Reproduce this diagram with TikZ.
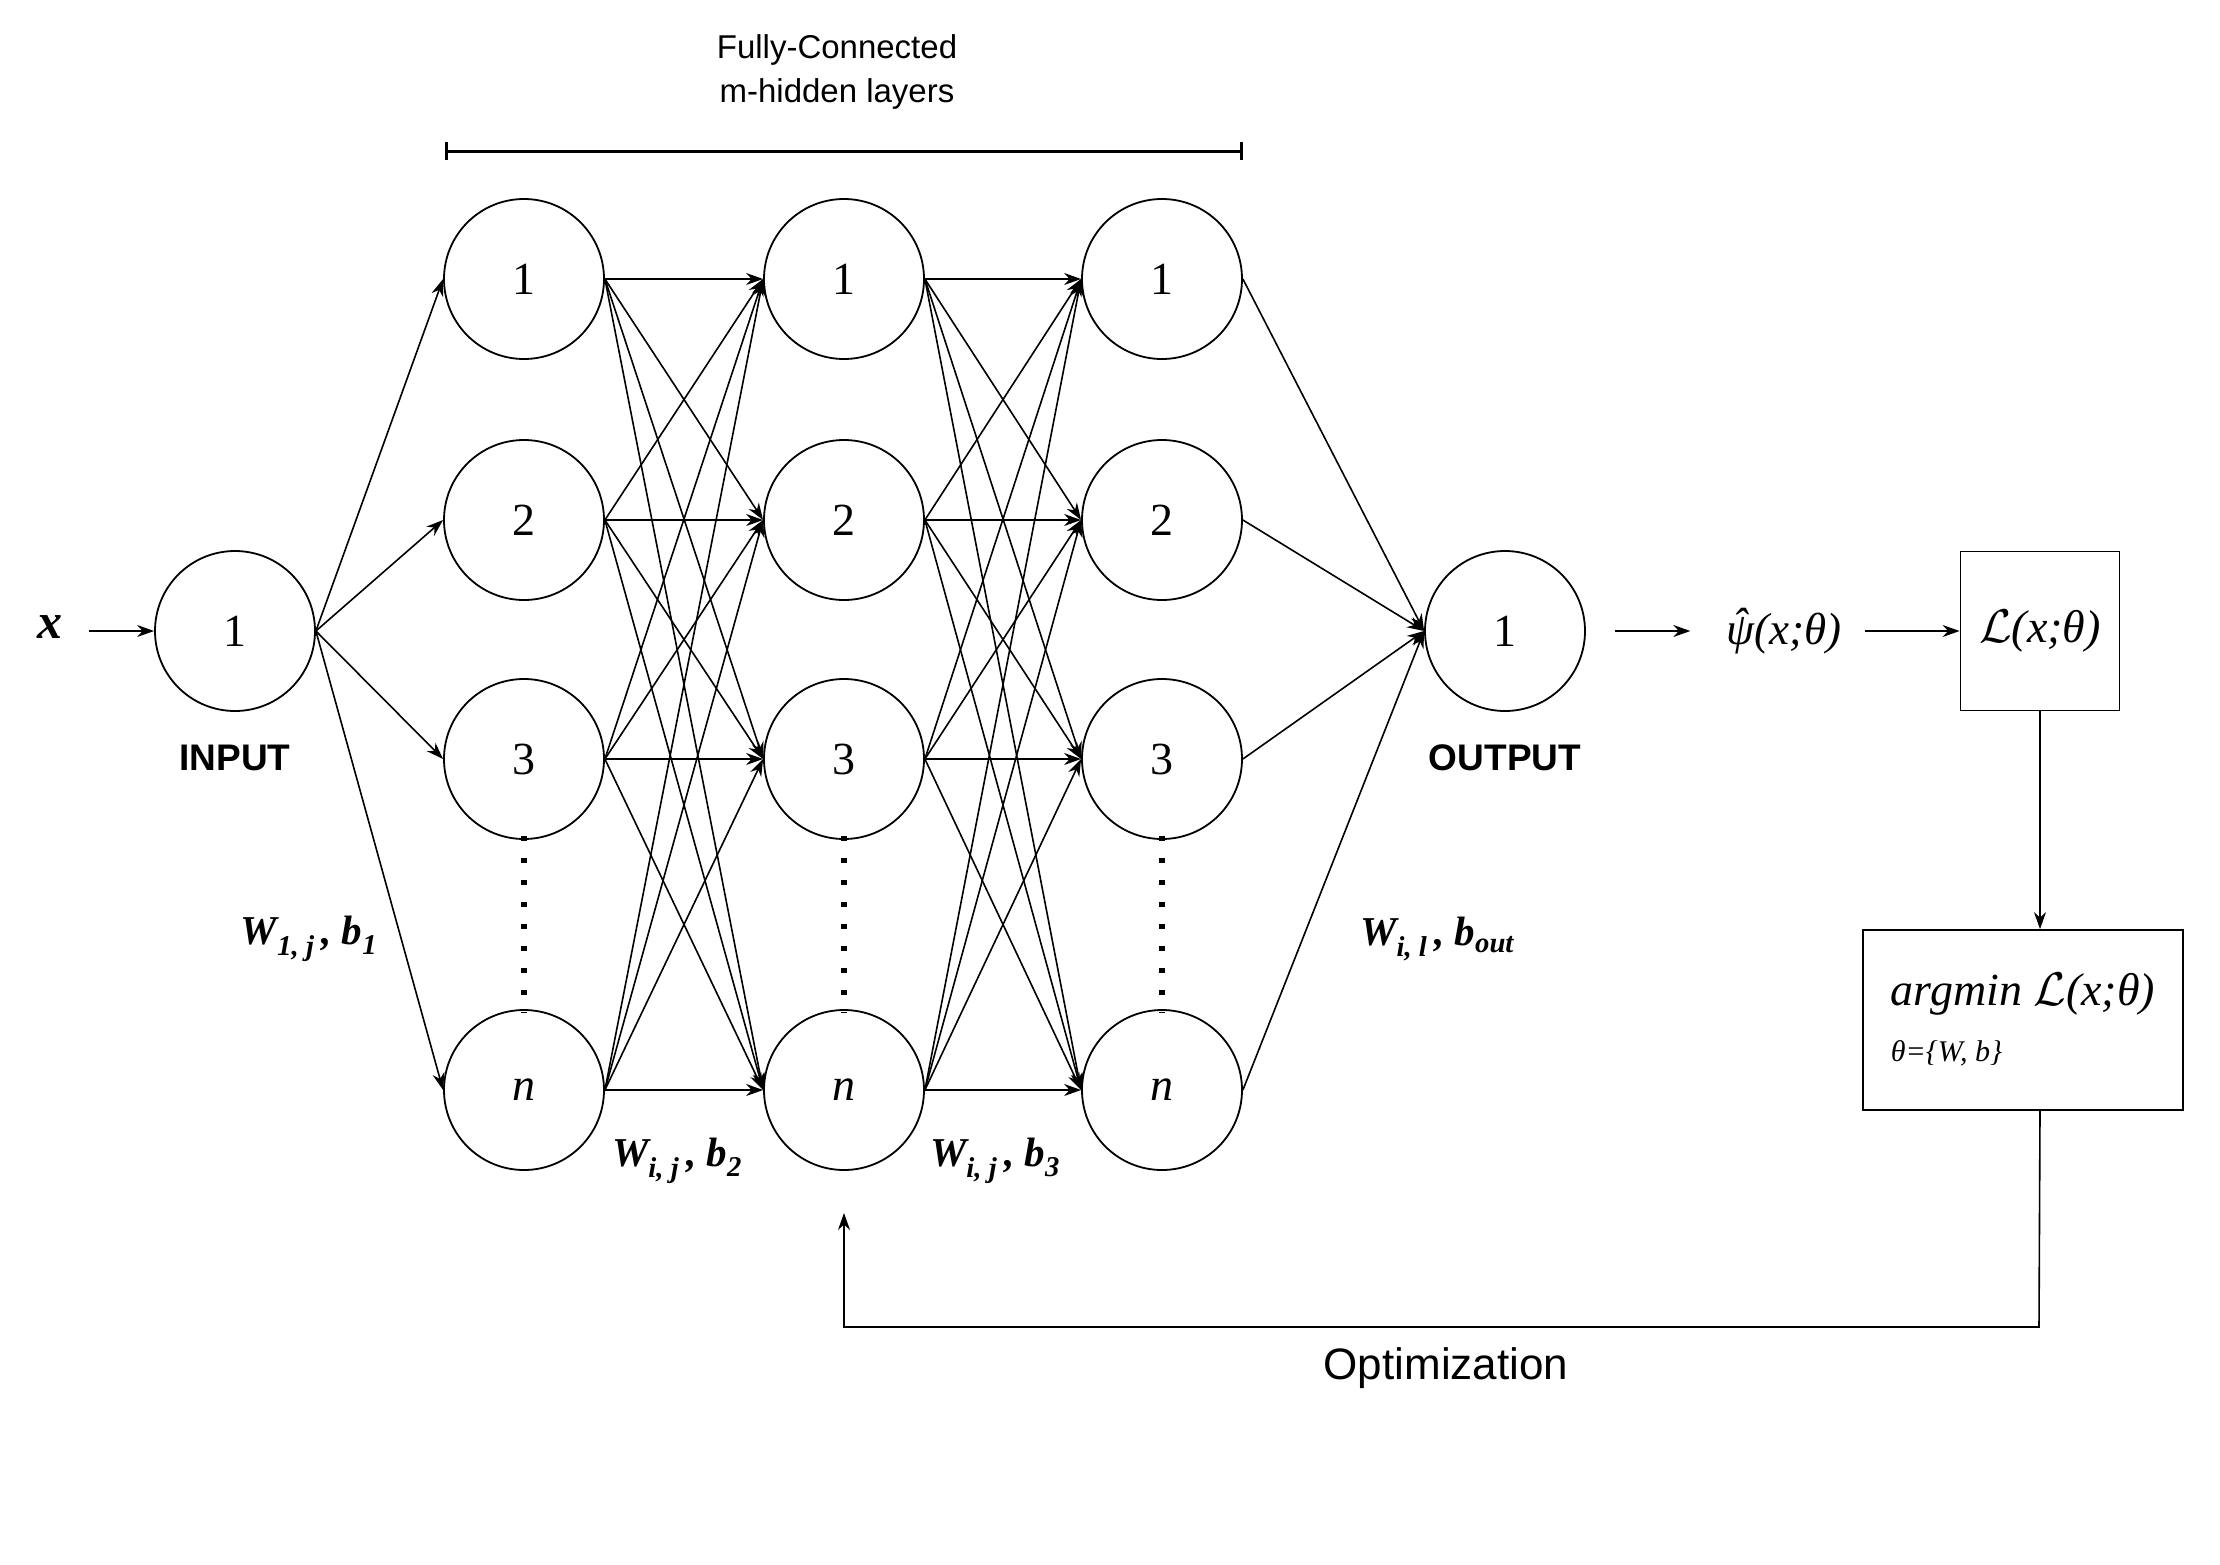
\documentclass[tikz,border=0pt]{standalone}
\usepackage{fontspec}
\setmainfont{Liberation Serif}
\newfontfamily\arialfont{Liberation Sans}
\usetikzlibrary{arrows.meta}
\newcommand{\bigL}{\scalebox{1.9}{\fontsize{24.88}{30}\selectfont$\mathcal{L}$}}
\tikzset{
  neuron/.style={circle, draw, line width=1.8pt, minimum size=160pt, inner sep=0pt,
    font=\fontsize{46}{50}\selectfont},
  conn/.style={line width=1.6pt, -{Stealth[length=17pt,width=12pt]}},
  wlabel/.style={font=\fontsize{41}{46}\selectfont\bfseries\itshape},
  caption/.style={font=\fontsize{37}{42}\selectfont\arialfont\bfseries},
  mathtxt/.style={font=\fontsize{45}{50}\selectfont\itshape, inner sep=0pt},
  boxnode/.style={draw, line width=1.8pt},
  dots/.style={line width=5.5pt, dash pattern=on 5pt off 17pt},
}
\begin{document}
\begin{tikzpicture}[x=1pt,y=-1pt]
\useasboundingbox[fill=white] (0,0) rectangle (2220,1564);

% input
\node[neuron] (in) at (235,631) {1};
\node[font=\fontsize{50}{54}\selectfont\bfseries\itshape, inner sep=0pt] (x) at (50,627) {x};
\draw[conn] ([xshift=26pt]x.east |- in.west) -- (in.west);
\node[caption] (inlab) at (235,758) {INPUT};

% hidden layers
\foreach \L/\X in {1/524,2/844,3/1162}{
  \foreach \i/\Y/\t in {1/279/1,2/520/2,3/759/3,n/1090/\textit{n}}{
    \node[neuron] (h\L-\i) at (\X,\Y) {\t};
  }
  \draw[dots] ([yshift=4pt]h\L-3.south) -- ([yshift=-3pt]h\L-n.north);
}

% output
\node[neuron] (out) at (1505,631) {1};
\node[caption] (outlab) at (1505,758) {OUTPUT};

% connections
\foreach \b in {1,2,3,n}{
  \draw[conn] (in.east) -- (h1-\b.west);
  \draw[conn] (h3-\b.east) -- (out.west);
  \foreach \a in {1,2,3,n}{
    \draw[conn] (h1-\a.east) -- (h2-\b.west);
    \draw[conn] (h2-\a.east) -- (h3-\b.west);
  }
}

% weight labels
\node[wlabel] (w1) at (309,939) {W\textsubscript{1, j}\,, b\textsubscript{1}};
\node[wlabel] (w2) at (677,1161) {W\textsubscript{i, j}\,, b\textsubscript{2}};
\node[wlabel] (w3) at (995,1161) {W\textsubscript{i, j}\,, b\textsubscript{3}};
\node[wlabel] (w4) at (1437,939) {W\textsubscript{i, l}\,, b\textsubscript{out}};

% top bracket
\coordinate (barL) at (445,151);
\coordinate (barR) at (1243,151);
\draw[line width=3pt, {Bar[width=18pt]}-{Bar[width=18pt]}] (barL) -- (barR);
\node[font=\fontsize{33}{44}\selectfont\arialfont, align=center] (fc) at (837,72) {Fully-Connected\\m-hidden layers};

% psi and loss
\node[mathtxt] (psi) at (1784,631) {\makebox[0pt][l]{\hspace{0.14em}\raisebox{0.10em}{ˆ}}ψ(x;θ)};
\draw[conn, shorten <=29pt, shorten >=36pt] (out.east) -- (psi.west);
\node[boxnode, minimum width=159pt, minimum height=159pt, inner sep=0pt,
      font=\fontsize{46}{50}\selectfont\itshape] (L) at (2040,631) {\bigL(x;θ)};
\draw[conn, shorten <=23pt] (psi.east) -- (L.west);

\node[boxnode, minimum width=320pt, minimum height=180pt, align=left,
      font=\fontsize{46}{56}\selectfont\itshape] (am) at (2023,1020)
  {argmin \bigL(x;θ)\\
   {\fontsize{30}{34}\selectfont θ=\{W, b\}}};
\draw[conn] (L.south) -- (L.south |- am.north);

\coordinate (fb) at (844,1213);
\coordinate (fbcorner) at (2039,1327);
\draw[conn] (L.south |- am.south) -- (fbcorner) -| (fb);
\node[font=\fontsize{44}{50}\selectfont\arialfont] (opt) at (1446,1368) {Optimization};
\end{tikzpicture}
\end{document}
